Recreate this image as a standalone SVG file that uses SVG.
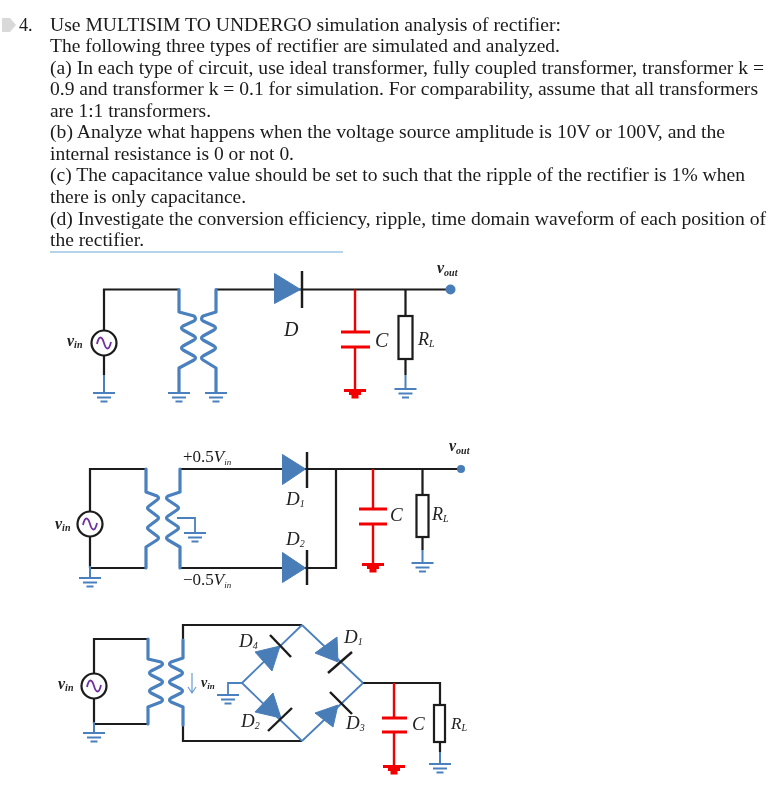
<svg xmlns="http://www.w3.org/2000/svg" width="778" height="790" viewBox="0 0 778 790">
<style>
.t{font-family:"Liberation Serif","Times New Roman",serif;font-size:18.2px;fill:#1a1a1a}
.l{font-family:"Liberation Serif","Times New Roman",serif;font-style:italic;fill:#222}
.v{font-weight:bold;font-size:16px}
.sub{font-size:10px}
.m{font-size:19px}
.w{fill:none;stroke:#1a1a1a;stroke-width:2.2}
.b{fill:none;stroke:#4a80bd;stroke-width:3.2;stroke-linejoin:round;stroke-linecap:round}
.bl{fill:none;stroke:#4a80bd;stroke-width:2}
.bt{fill:none;stroke:#4a80bd;stroke-width:1.8}
.g{fill:none;stroke:#4a80bd;stroke-width:2}
.r{fill:none;stroke:#f00000;stroke-width:2.4}
.p{fill:none;stroke:#f00000;stroke-width:3}
.d{fill:#4a7db8;stroke:#4a7db8;stroke-width:1}
.bar{stroke:#1a1a1a;stroke-width:2.4;fill:none}
.s{fill:#fff;stroke:#1a1a1a;stroke-width:2.2}
.sine{fill:none;stroke:#7030a0;stroke-width:1.8}
.res{fill:#fff;stroke:#1a1a1a;stroke-width:2.2}
</style>
<defs>
<filter id="soft" x="0" y="0" width="100%" height="100%"><feGaussianBlur stdDeviation="0.45"/></filter>
<g id="gnd"><path class="g" d="M-11 0H11M-7 4.500H7M-3.500 8.500H3.500"/></g>
<g id="gndr"><path d="M-11 -1H11V2H6V5H3.500V8.500H-3.500V5H-6V2H-11Z" fill="#f00000"/></g>
<g id="src"><circle class="s" r="12.500"/><path class="sine" d="M-7 1C-5 -8 -2 -7 0 0S5 8 7 -1"/></g>
</defs>
<g filter="url(#soft)">
<g id="text">
<path d="M2 18H10L16 25 10 32H2Z" fill="#d9d9d9"/>
<text class="t" x="19" y="30.500">4.</text>
<text class="t" x="50" y="30.500" textLength="511" lengthAdjust="spacingAndGlyphs">Use MULTISIM TO UNDERGO simulation analysis of rectifier:</text>
<text class="t" x="50" y="52" textLength="510" lengthAdjust="spacingAndGlyphs">The following three types of rectifier are simulated and analyzed.</text>
<text class="t" x="50" y="73.600" textLength="714" lengthAdjust="spacingAndGlyphs">(a) In each type of circuit, use ideal transformer, fully coupled transformer, transformer k =</text>
<text class="t" x="50" y="95.200" textLength="708" lengthAdjust="spacingAndGlyphs">0.9 and transformer k = 0.1 for simulation. For comparability, assume that all transformers</text>
<text class="t" x="50" y="116.700" textLength="161" lengthAdjust="spacingAndGlyphs">are 1:1 transformers.</text>
<text class="t" x="50" y="138.300" textLength="675" lengthAdjust="spacingAndGlyphs">(b) Analyze what happens when the voltage source amplitude is 10V or 100V, and the</text>
<text class="t" x="50" y="159.800" textLength="244" lengthAdjust="spacingAndGlyphs">internal resistance is 0 or not 0.</text>
<text class="t" x="50" y="181.400" textLength="695" lengthAdjust="spacingAndGlyphs">(c) The capacitance value should be set to such that the ripple of the rectifier is 1% when</text>
<text class="t" x="50" y="202.900" textLength="196" lengthAdjust="spacingAndGlyphs">there is only capacitance.</text>
<text class="t" x="50" y="224.500" textLength="716" lengthAdjust="spacingAndGlyphs">(d) Investigate the conversion efficiency, ripple, time domain waveform of each position of</text>
<text class="t" x="50" y="246" textLength="94" lengthAdjust="spacingAndGlyphs">the rectifier.</text>
<path d="M50 252H343" stroke="#9cc6e4" stroke-width="1.500"/>
</g>

<g id="connectors">
<path class="w" d="M104 375V289.500H179M216 289.500H451M405.500 289.500V316M405.500 359V375"/>
<path class="bl" d="M104 375V393M405.500 375V389"/>
<path class="r" d="M355 289.500V332M355 347V390"/>
<path class="b" d="M179 289.500V312L194 316Q197 319 194 321L183 326Q180 328 183 330L194 336Q197 338 194 340L183 346Q180 348 183 350L194 356Q197 358 194 360L179 368V392M216 289.500V312L203 316Q200 319 203 321L214 326Q217 328 214 330L203 336Q200 338 203 340L214 346Q217 348 214 350L203 356Q200 358 203 360L216 368V392"/>

<path class="w" d="M90 568V469H146M180 469H306M180 568H336V469M146 568H90M306 469H461M422.500 469V495M422.500 537V550"/>
<path class="bl" d="M90 566V578M422.500 550V563"/>
<path class="r" d="M373 469V509M373 524V563"/>
<path class="bt" d="M177 518H195V533"/>
<path class="b" d="M146 469V492L157 496Q160 498 157 500L149 506Q146 508 149 510L157 516Q160 518 157 520L149 526Q146 528 149 530L157 536Q160 538 157 540L146 547V568M180 469V492L168 496Q165 498 168 500L177 506Q180 508 177 510L168 516Q165 518 168 520L177 526Q180 528 177 530L168 536Q165 538 168 540L180 547V568"/>

<path class="w" d="M94 724V639H148M94 724H148M183 640V625H302M183 725V741H302M363 683H440V705M440 742V752"/>
<path class="bl" d="M94 722V733M440 752V764"/>
<path class="r" d="M394 683V718M394 732V765"/>
<path class="bt" d="M302 625L363 683M302 625L242 683M242 683L302 741M302 741L363 683M242 683H228V695"/>
<path class="b" d="M148 639V659L161 662Q164 664 161 666L151 671Q148 673 151 675L161 680Q164 682 161 684L151 689Q148 691 151 693L161 698Q164 700 161 702L148 707V724M183 640V658L171 662Q168 664 171 666L181 671Q184 673 181 675L171 680Q168 682 171 684L181 689Q184 691 181 693L171 698Q168 700 171 702L183 707V725"/>
<path d="M192 673V692M188 687L192 693 196 687" fill="none" stroke="#6a9bd0" stroke-width="1.200"/>
</g>

<g id="circuit1">
<use href="#src" x="104" y="343"/>
<use href="#gnd" x="104" y="393"/>
<use href="#gnd" x="179" y="393"/>
<use href="#gnd" x="216" y="393"/>
<use href="#gnd" x="405.500" y="389"/>
<use href="#gndr" x="355" y="390"/>
<path class="d" d="M274.500 273.500V303.500L300.500 289.500Z"/>
<path class="bar" d="M302 271V308"/>
<path class="p" d="M341 332H370M341 347H370"/>
<rect class="res" x="398.500" y="316" width="14" height="43"/>
<circle cx="450.500" cy="289.500" r="5" fill="#4a7db8"/>
<text class="l v" x="67" y="346">v<tspan class="sub" dy="2">in</tspan></text>
<text class="l" x="284" y="336" font-size="20">D</text>
<text class="l" x="375" y="347" font-size="20">C</text>
<text class="l" x="418" y="345" font-size="18">R<tspan class="sub" dy="2">L</tspan></text>
<text class="l v" x="437" y="273">v<tspan class="sub" dy="3">out</tspan></text>
</g>

<g id="circuit2">
<use href="#src" x="90" y="524"/>
<use href="#gnd" x="90" y="578"/>
<use href="#gnd" x="195" y="533"/>
<use href="#gnd" x="422.500" y="563"/>
<use href="#gndr" x="373" y="564"/>
<path class="d" d="M282.500 454.500V484.500L305.500 469Z"/>
<path class="bar" d="M307 452V488"/>
<path class="d" d="M282.500 552.500V582.500L305.500 568Z"/>
<path class="bar" d="M307 550V585"/>
<path class="p" d="M359 509H387M359 524H387"/>
<rect class="res" x="416.500" y="495" width="12" height="42"/>
<circle cx="461" cy="469" r="4" fill="#4a7db8"/>
<text class="l v" x="55" y="529">v<tspan class="sub" dy="2">in</tspan></text>
<text x="183" y="462" class="t" style="font-size:17px">+0.5<tspan font-style="italic">V</tspan><tspan font-style="italic" dy="3" style="font-size:9px">in</tspan></text>
<text x="183" y="585" class="t" style="font-size:17px">−0.5<tspan font-style="italic">V</tspan><tspan font-style="italic" dy="3" style="font-size:9px">in</tspan></text>
<text class="l m" x="286" y="505">D<tspan class="sub" dy="2">1</tspan></text>
<text class="l m" x="286" y="545">D<tspan class="sub" dy="2">2</tspan></text>
<text class="l m" x="390" y="521">C</text>
<text class="l" x="432" y="520" font-size="18">R<tspan class="sub" dy="2">L</tspan></text>
<text class="l v" x="449" y="451">v<tspan class="sub" dy="3">out</tspan></text>
</g>

<g id="circuit3">
<use href="#src" x="94" y="686"/>
<use href="#gnd" x="94" y="733"/>
<use href="#gnd" x="228" y="695"/>
<use href="#gnd" x="440" y="764"/>
<use href="#gndr" x="394" y="766"/>
<path class="d" d="M255 652L280 646 272 671Z"/>
<path class="bar" d="M270 635L291 657"/>
<path class="d" d="M315 653L337 637 338 662Z"/>
<path class="bar" d="M328 673L352 652"/>
<path class="d" d="M255 712L273 693 281 718Z"/>
<path class="bar" d="M268 731L292 708"/>
<path class="d" d="M315 713L338 705 333 727Z"/>
<path class="bar" d="M330 692L352 714"/>
<path class="p" d="M382 718H407M382 732H407"/>
<rect class="res" x="434" y="705" width="11" height="37"/>
<text class="l v" x="58" y="689">v<tspan class="sub" dy="2">in</tspan></text>
<text class="l" x="201" y="687" font-size="14" font-weight="bold">v<tspan font-size="9" dy="2">in</tspan></text>
<text class="l m" x="239" y="647">D<tspan class="sub" dy="2">4</tspan></text>
<text class="l m" x="344" y="643">D<tspan class="sub" dy="2">1</tspan></text>
<text class="l m" x="241" y="727">D<tspan class="sub" dy="2">2</tspan></text>
<text class="l m" x="346" y="729">D<tspan class="sub" dy="2">3</tspan></text>
<text class="l m" x="412" y="730">C</text>
<text class="l" x="451" y="729" font-size="17">R<tspan class="sub" dy="2">L</tspan></text>
</g>
</g>
</svg>
